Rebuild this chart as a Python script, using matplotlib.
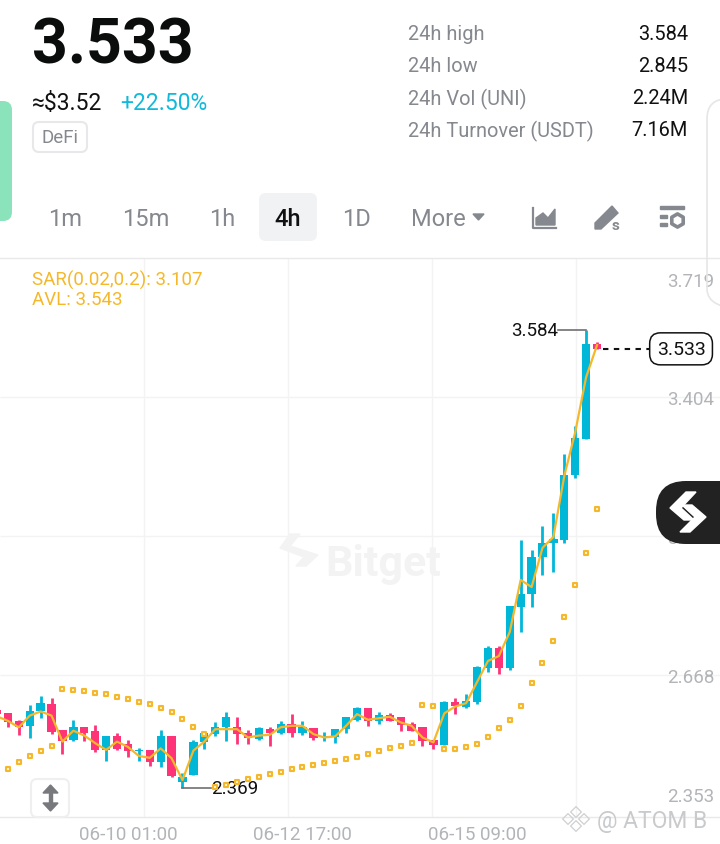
import numpy as np
import matplotlib
matplotlib.use("Agg")
import matplotlib.pyplot as plt
from matplotlib.patches import FancyBboxPatch, Polygon, Rectangle

plt.rcParams['font.family'] = ['Roboto', 'DejaVu Sans']

# candles, 4h, oldest first
opens = [2.576, 2.566, 2.545, 2.533, 2.571, 2.592, 2.522, 2.496, 2.530, 2.518, 2.469, 2.505, 2.484, 2.466,
         2.469, 2.436, 2.505, 2.383, 2.403, 2.489, 2.511, 2.529, 2.529, 2.513, 2.498, 2.524, 2.514, 2.538,
         2.514, 2.526, 2.503, 2.503, 2.524, 2.549, 2.579, 2.545, 2.561, 2.555, 2.538, 2.530, 2.495, 2.482,
         2.595, 2.584, 2.597, 2.686, 2.739, 2.686, 2.849, 2.882, 2.980, 3.017, 3.027, 3.198, 3.294, 3.546]
highs = [2.576, 2.566, 2.549, 2.588, 2.611, 2.606, 2.522, 2.548, 2.530, 2.536, 2.505, 2.515, 2.496, 2.473,
         2.469, 2.521, 2.505, 2.409, 2.496, 2.515, 2.542, 2.569, 2.555, 2.522, 2.530, 2.530, 2.545, 2.564,
         2.545, 2.526, 2.517, 2.525, 2.555, 2.584, 2.579, 2.569, 2.566, 2.555, 2.544, 2.530, 2.495, 2.599,
         2.608, 2.617, 2.692, 2.745, 2.745, 2.850, 3.027, 2.999, 3.064, 3.097, 3.254, 3.327, 3.584, 3.551]
lows = [2.555, 2.529, 2.508, 2.500, 2.554, 2.511, 2.458, 2.493, 2.493, 2.464, 2.439, 2.469, 2.449, 2.440,
        2.425, 2.424, 2.396, 2.369, 2.403, 2.471, 2.505, 2.492, 2.484, 2.484, 2.496, 2.480, 2.511, 2.504,
        2.509, 2.495, 2.493, 2.487, 2.514, 2.546, 2.533, 2.538, 2.545, 2.520, 2.518, 2.480, 2.471, 2.482,
        2.564, 2.579, 2.591, 2.676, 2.670, 2.681, 2.781, 2.847, 2.934, 2.942, 3.019, 3.190, 3.294, 3.533]
closes = [2.564, 2.542, 2.529, 2.573, 2.593, 2.517, 2.493, 2.530, 2.515, 2.469, 2.505, 2.471, 2.467, 2.470,
          2.436, 2.505, 2.400, 2.396, 2.491, 2.514, 2.531, 2.555, 2.511, 2.500, 2.527, 2.513, 2.539, 2.515,
          2.529, 2.500, 2.505, 2.525, 2.555, 2.579, 2.546, 2.561, 2.546, 2.535, 2.520, 2.493, 2.482, 2.595,
          2.586, 2.598, 2.688, 2.739, 2.686, 2.850, 2.882, 2.981, 3.018, 3.028, 3.199, 3.297, 3.546, 3.533]

avl = [2.558, 2.546, 2.529, 2.560, 2.571, 2.560, 2.491, 2.520, 2.507, 2.487, 2.469, 2.491, 2.477, 2.453,
       2.448, 2.473, 2.447, 2.389, 2.467, 2.491, 2.524, 2.524, 2.524, 2.502, 2.507, 2.509, 2.529, 2.533,
       2.533, 2.511, 2.502, 2.505, 2.533, 2.564, 2.549, 2.553, 2.557, 2.542, 2.533, 2.502, 2.489, 2.566,
       2.584, 2.593, 2.649, 2.705, 2.718, 2.782, 2.920, 2.901, 3.005, 3.034, 3.196, 3.312, 3.458, 3.543]

sar = [np.nan, 2.419, 2.438, 2.453, 2.467, 2.480, 2.630, 2.628, 2.625, 2.620, 2.618, 2.610, 2.604, 2.597,
       2.591, 2.580, 2.570, 2.551, 2.530, 2.511, 2.371, 2.376, 2.384, 2.392, 2.397, 2.405, 2.410, 2.419,
       2.423, 2.429, 2.434, 2.439, 2.445, 2.450, 2.458, 2.466, 2.474, 2.480, 2.487, 2.588, 2.585, 2.471,
       2.471, 2.477, 2.484, 2.503, 2.527, 2.548, 2.585, 2.646, 2.699, 2.758, 2.821, 2.906, 2.991, 3.107]

price_ticks = [3.719, 3.404, 3.036, 2.668, 2.353]
time_ticks = [12, 28, 44]
time_labels = ['06-10 01:00', '06-12 17:00', '06-15 09:00']
vgrid_at = [13.43, 26.67, 39.87, 53.07]

stat_names = ['24h high', '24h low', '24h Vol (UNI)', '24h Turnover (USDT)']
stat_values = ['3.584', '2.845', '2.24M', '7.16M']
tab_names = ['1m', '15m', '1h', '4h', '1D']
tab_x = [65, 146, 222, 288, 356]

BLUE = '#00b7d8'
PINK = '#ff3377'
GOLD = '#f5b82a'
GREY = '#85888e'
TICK = '#b2b4b8'
GRID = '#f3f3f4'

fig = plt.figure(figsize=(7.2, 8.45), dpi=100)

# chart area is y 259..818 in pixels
ax = fig.add_axes([0, (845 - 818) / 845, 1, 559 / 845])
ax.set_xlim(0.275, 66.27)
ax.set_ylim(2.291, 3.774)
for side in ['left', 'right']:
    ax.spines[side].set_visible(False)
for side in ['top', 'bottom']:
    ax.spines[side].set_color('#e9e9ea')
    ax.spines[side].set_linewidth(1)

idx = np.arange(len(opens))
o = np.array(opens)
c = np.array(closes)
colors = [BLUE if c[i] >= o[i] else PINK for i in idx]

ax.vlines(idx, lows, highs, colors=colors, linewidth=2.0, zorder=3)
ax.bar(idx, np.maximum(np.abs(c - o), 0.004), bottom=np.minimum(o, c), width=0.76, color=colors, zorder=3)
ax.plot(idx, avl, color=GOLD, linewidth=1.6, zorder=4)
ax.scatter(idx, sar, marker='s', s=10, facecolor='#fff6dc', edgecolor=GOLD, linewidth=1.5, zorder=5)

# grid
ax.vlines(vgrid_at, 2.291, 3.774, colors=GRID, linewidth=1, zorder=1)
ax.yaxis.tick_right()
ax.set_yticks(price_ticks, [f'{v:.3f}' for v in price_ticks])
ax.set_xticks(time_ticks, time_labels)
ax.tick_params(axis='y', length=0, pad=-4, labelsize=13.5, labelcolor=TICK)
ax.tick_params(axis='x', length=0, pad=6, labelsize=13.5, labelcolor=TICK)
for lab in ax.get_yticklabels():
    lab.set_horizontalalignment('right')
ax.hlines(price_ticks[1:4], 0.275, 66.27, colors=GRID, linewidth=1, zorder=1)

# high / low notes
hi = int(np.argmax(highs))
lo = int(np.argmin(lows))
ax.plot([hi - 2.55, hi], [highs[hi], highs[hi]], color='#6f7073', linewidth=1.2, zorder=4)
ax.text(hi - 2.55, highs[hi], '3.584', ha='right', va='center', fontsize=13.5, color='#111111', zorder=6)
ax.plot([lo, lo + 2.6], [lows[lo], lows[lo]], color='#6f7073', linewidth=1.2, zorder=4)
ax.text(lo + 2.6, lows[lo], '2.369', ha='left', va='center', fontsize=13.5, color='#111111', zorder=4)

# last price
ax.plot([idx[-1] + 0.55, 59.9], [closes[-1], closes[-1]], color='#111111', linewidth=1.5,
        linestyle=(0, (2.6, 2.6)), zorder=4)
ax.text(62.7, closes[-1], '3.533', ha='center', va='center', fontsize=14, color='#111111', zorder=6,
        bbox=dict(boxstyle='round,pad=0.36,rounding_size=0.55', facecolor='white', edgecolor='#111111', linewidth=1.1))

# everything else is screen furniture, in pixel coordinates
ov = fig.add_axes([0, 0, 1, 1], zorder=5)
ov.set_xlim(0, 720)
ov.set_ylim(845, 0)
ov.axis('off')
ov.patch.set_alpha(0)


def box(x, y, w, h, r, **kw):
    ov.add_patch(FancyBboxPatch((x + r, y + r), w - 2 * r, h - 2 * r, boxstyle=f'round,pad={r},rounding_size={r}', **kw))


ov.text(32, 47, '3.533', fontsize=45, fontweight='bold', color='#0b0d0d', va='center', ha='left')
ov.text(32, 104, '≈$3.52', fontsize=16.5, color='#111111', va='center')
ov.text(120, 104, '+22.50%', fontsize=16.5, color='#12b9da', va='center')
box(33, 123, 54, 30, 6, facecolor='white', edgecolor='#e8e8ea', linewidth=1.5)
ov.text(60, 138, 'DeFi', fontsize=13.5, color=GREY, ha='center', va='center')
box(-20, 102, 32, 120, 9, facecolor='#8ae3ba', edgecolor='none')

for name, value, y in zip(stat_names, stat_values, [35, 67, 99, 131]):
    ov.text(408, y, name, fontsize=14.4, color=GREY, va='center')
    ov.text(688, y, value, fontsize=14.4, color='#111111', ha='right', va='center')

box(259, 194, 58, 48, 7, facecolor='#f1f2f4', edgecolor='none')
for name, x in zip(tab_names, tab_x):
    if name == '4h':
        ov.text(x, 220, name, fontsize=17, color='#111111', ha='center', va='center', fontweight='medium')
    else:
        ov.text(x, 220, name, fontsize=17, color=GREY, ha='center', va='center')
ov.text(411, 220, 'More', fontsize=17, color=GREY, va='center')
ov.add_patch(Polygon([(473, 215), (484, 215), (478.5, 221)], color=GREY))

# toolbar icons
ov.plot([533, 533, 556], [209, 229, 229], color=GREY, linewidth=1.6)
ov.add_patch(Polygon([(536, 226), (536, 219), (543, 214), (548, 219), (555, 210), (555, 226)], color=GREY))
ov.add_patch(Polygon([(595, 224), (595, 230), (601, 230), (618, 214), (612, 207)], color=GREY))
ov.text(612, 226, 's', fontsize=11, color=GREY, va='center', fontweight='bold')
ov.add_patch(Rectangle((660, 207), 24, 3, color=GREY))
ov.add_patch(Rectangle((660, 216), 7, 3, color=GREY))
ov.add_patch(Rectangle((660, 224), 7, 3, color=GREY))
ov.scatter([677], [221], s=90, marker='h', facecolor='white', edgecolor=GREY, linewidth=2.6)

# legend
ov.text(32, 280, 'SAR(0.02,0.2): 3.107', fontsize=13.5, color=GOLD, va='center')
ov.text(32, 300, 'AVL: 3.543', fontsize=13.5, color=GOLD, va='center')

# side panel edge and floating button
box(707, 100, 60, 210, 20, facecolor='none', edgecolor='#e6e6e6', linewidth=1.2)
box(656, 482, 110, 63, 30, facecolor='#222222', edgecolor='none')
ov.add_patch(Polygon([(686, 493), (696, 493), (681, 509), (694, 521), (684, 521), (670, 509)], color='white'))
ov.add_patch(Polygon([(690, 533), (680, 533), (695, 518), (682, 506), (692, 506), (706, 518)], color='white'))

# watermark
ov.text(325, 565, 'Bitget', fontsize=31, fontweight='bold', color='#f3f3f3', va='center', zorder=0)
ov.add_patch(Polygon([(290, 535), (300, 535), (290, 547), (318, 556), (306, 567), (296, 567), (304, 558), (280, 549)],
                     color='#f3f3f3', zorder=0))
ov.text(597, 822, '@ ATOM B', fontsize=16.5, color='#c9cacc', va='center')
for cx, cy in [(568, 820), (576, 813), (576, 827), (584, 820)]:
    ov.scatter([cx], [cy], s=30, marker='D', facecolor='none', edgecolor='#cfd0d2', linewidth=0.9)

# scale button
box(31, 780, 38, 38, 6, facecolor='white', edgecolor='#efefef', linewidth=1.5)
ov.add_patch(Polygon([(43, 794), (58, 794), (50.5, 786)], color='#77797d'))
ov.add_patch(Polygon([(43, 804), (58, 804), (50.5, 812)], color='#77797d'))
ov.add_patch(Rectangle((49, 794), 3, 10, color='#77797d'))

fig.savefig('out.png', dpi=100)
